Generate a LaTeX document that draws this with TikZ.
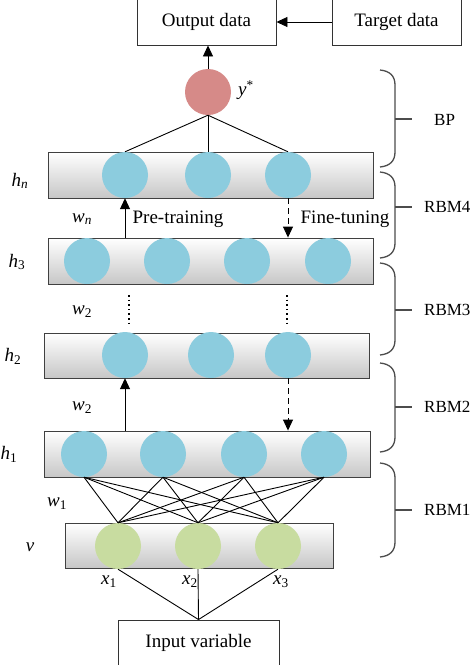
\documentclass[tikz,border=0pt]{standalone}
\usepackage{fontspec}
\setmainfont{Liberation Serif}
\usetikzlibrary{arrows.meta}
\definecolor{nodeblue}{RGB}{140,204,222}
\definecolor{nodered}{RGB}{214,138,136}
\definecolor{nodegreen}{RGB}{200,220,160}
\newcommand{\mybrace}[3]{%
  \draw[brc] (380,#1) .. controls (390,#1+1) and (395,#1+6) .. (395,#1+15)
     -- (395,#2-15) .. controls (395,#2-6) and (390,#2-1) .. (380,#2);
  \draw[brc] (395,#3) -- (412,#3);}
\newcommand{\sbu}[1]{\textsubscript{\upshape #1}}
\begin{document}
\begin{tikzpicture}[x=1pt,y=-1pt,
  every node/.style={font=\fontsize{19}{22}\selectfont},
  bar/.style={draw=black!75, line width=0.9pt, top color=white, bottom color=black!22, minimum height=46pt, inner sep=0pt},
  unit/.style={circle, fill=#1, minimum size=46pt, inner sep=0pt},
  box/.style={draw=black!80, line width=0.9pt, fill=white, minimum height=46pt, inner sep=0pt},
  lbl/.style={inner sep=0pt},
  side/.style={inner sep=0pt, anchor=west, font=\fontsize{17}{20}\selectfont},
  conn/.style={line width=0.9pt},
  arr/.style={conn, -{Triangle[length=11pt,width=10pt]}},
  brc/.style={draw=black!70, line width=1.3pt},
  dots/.style={line width=1.6pt, dash pattern=on 1.6pt off 3pt}]
\useasboundingbox (0,0) rectangle (474,665);
\clip (0,0) rectangle (474,665);
\fill[white] (0,0) rectangle (474,665);

% boxes
\node[box, minimum width=139pt] (out) at (206.5,22) {Output data};
\node[box, minimum width=129pt] (tgt) at (396.5,22) {Target data};
\node[box, minimum width=161pt] (inp) at (198.5,643) {Input variable};

% output unit
\node[unit=nodered] (y) at (208,92) {};

% bars
\node[bar, minimum width=325pt] (bn) at (210.5,175) {};
\node[bar, minimum width=325pt] (b3) at (210.5,261) {};
\node[bar, minimum width=325pt, minimum height=45pt] (b2) at (206.5,355.5) {};
\node[bar, minimum width=326pt] (b1) at (207,454) {};
\node[bar, minimum width=268pt, minimum height=45pt] (bv) at (199,545.5) {};

% units
\node[unit=nodeblue] (n1) at (125,175) {};
\node[unit=nodeblue] (n2) at (208,175) {};
\node[unit=nodeblue] (n3) at (288,175) {};
\node[unit=nodeblue] (c1) at (87,261) {};
\node[unit=nodeblue] (c2) at (167,261) {};
\node[unit=nodeblue] (c3) at (247,261) {};
\node[unit=nodeblue] (c4) at (328,261) {};
\node[unit=nodeblue] (d1) at (125,355) {};
\node[unit=nodeblue] (d2) at (211,355) {};
\node[unit=nodeblue] (d3) at (288,355) {};
\node[unit=nodeblue] (e1) at (84,454) {};
\node[unit=nodeblue] (e2) at (163,454) {};
\node[unit=nodeblue] (e3) at (244,454) {};
\node[unit=nodeblue] (e4) at (324,454) {};
\node[unit=nodegreen] (v1) at (118,546) {};
\node[unit=nodegreen] (v2) at (198,546) {};
\node[unit=nodegreen] (v3) at (278,546) {};

% connectors
\draw[arr] (tgt) -- (out);
\draw[arr] (y.north) -- (y.north |- out.south);
\foreach \t in {n1,n2,n3} \draw[conn] (y.south) -- (\t.north);
\draw[arr] (n1 |- b3.north) -- (n1.south);
\draw[arr, dash pattern=on 6pt off 4pt] (n3.south) -- (n3 |- b3.north);
\coordinate (p1) at (129,295);
\coordinate (p2) at (129,326);
\coordinate (q1) at (287,295);
\coordinate (q2) at (287,326);
\draw[dots] (p1) -- (p2);
\draw[dots] (q1) -- (q2);
\draw[arr] (d1 |- b1.north) -- (d1.south);
\draw[arr, dash pattern=on 6pt off 4pt] (d3.south) -- (d3 |- b1.north);
\foreach \a in {e1,e2,e3,e4}
  \foreach \b in {v1,v2,v3}
    \draw[conn] (\a.south) -- (\b.north);
\foreach \b in {v1,v2,v3} \draw[conn] (\b.south) -- (inp.north);

% labels
\node[lbl] (ly) at (246,90) {\itshape y\textsuperscript{\upshape *}};
\node[lbl] (lhn) at (20,181) {\itshape h\textsubscript{n}};
\node[lbl] (lh3) at (17,262) {\itshape h\sbu{3}};
\node[lbl] (lh2) at (13,356) {\itshape h\sbu{2}};
\node[lbl] (lh1) at (9,454) {\itshape h\sbu{1}};
\node[lbl] (lv) at (30,547) {\itshape v};
\node[lbl] (lwn) at (82,219) {\itshape w\textsubscript{n}};
\node[lbl] (lw2a) at (82,312) {\itshape w\sbu{2}};
\node[lbl] (lw2b) at (82,408) {\itshape w\sbu{2}};
\node[lbl] (lw1) at (57,504) {\itshape w\sbu{1}};
\node[lbl] (lx1) at (109,582) {\itshape x\sbu{1}};
\node[lbl] (lx2) at (190,582) {\itshape x\sbu{2}};
\node[lbl] (lx3) at (281,582) {\itshape x\sbu{3}};
\node[lbl] (lpre) at (178,219) {Pre-training};
\node[lbl] (lfine) at (345,219) {Fine-tuning};

% braces
\mybrace{70}{167}{119}
\mybrace{172}{258}{207}
\mybrace{263}{355}{310}
\mybrace{363}{452}{407}
\mybrace{463}{557}{510}
\node[side] (lbp) at (434,120) {BP};
\node[side] (lr4) at (424,207) {RBM4};
\node[side] (lr3) at (424,310) {RBM3};
\node[side] (lr2) at (424,407) {RBM2};
\node[side] (lr1) at (424,510) {RBM1};
\end{tikzpicture}
\end{document}
